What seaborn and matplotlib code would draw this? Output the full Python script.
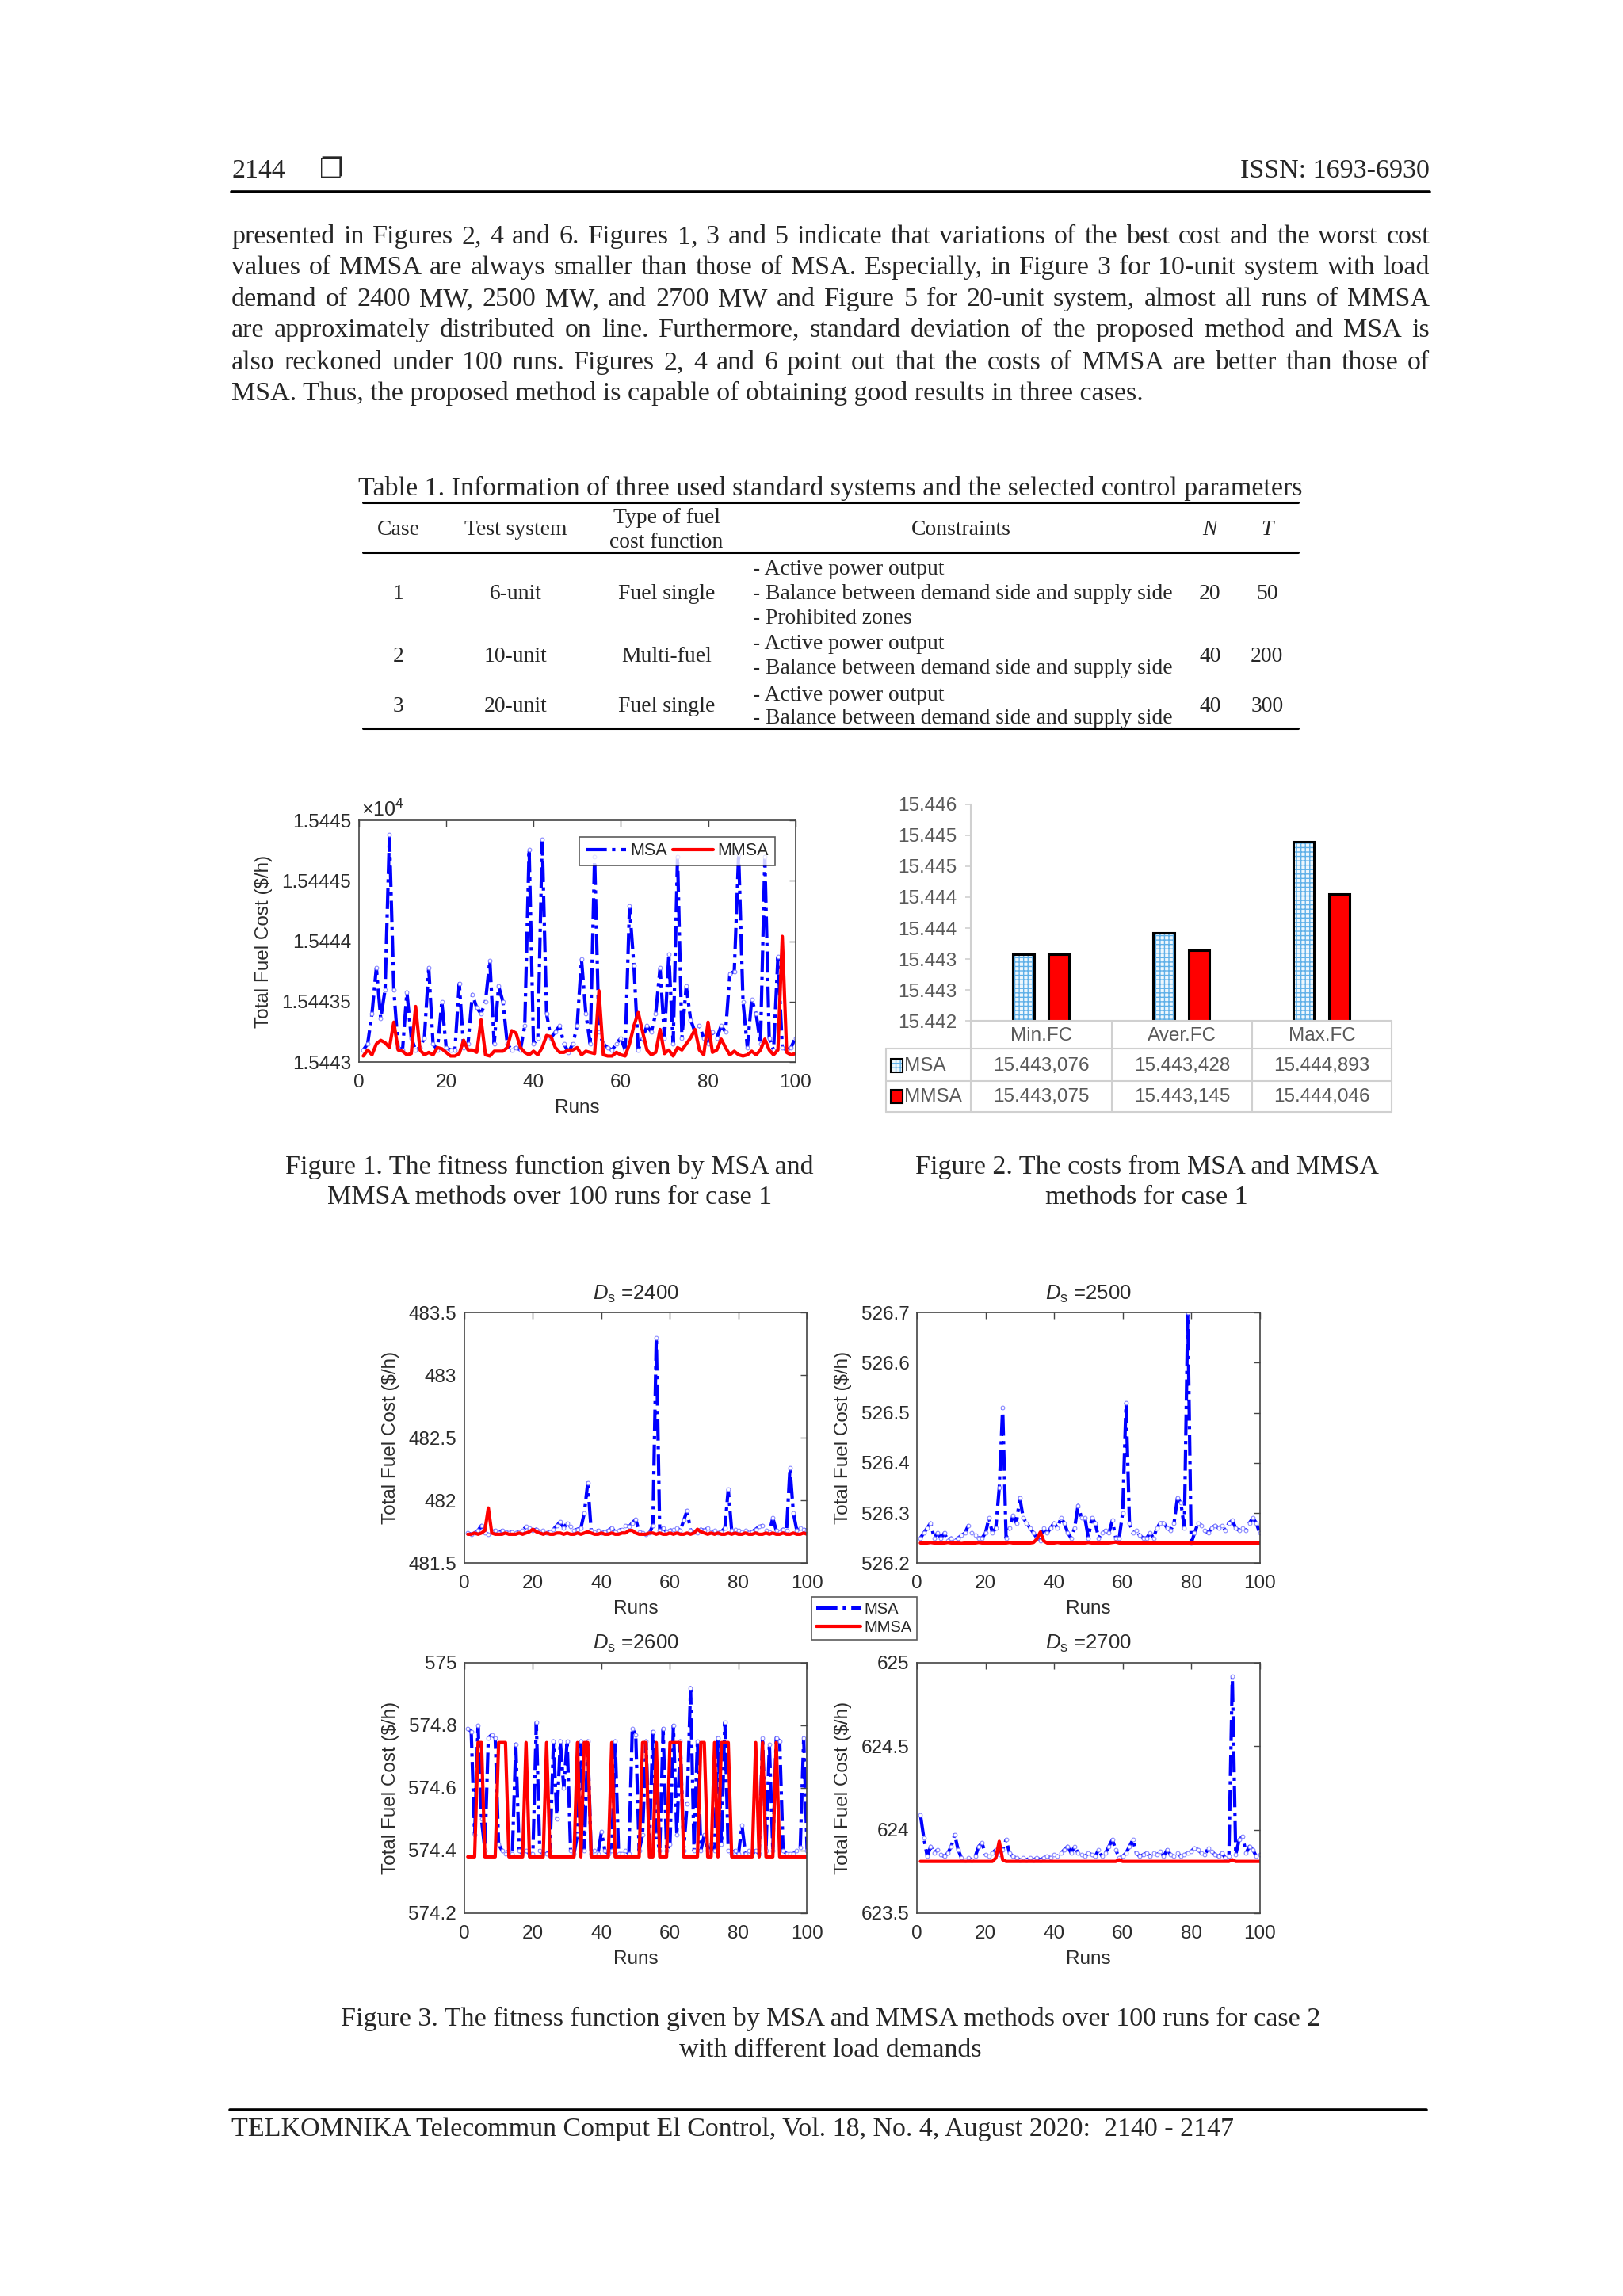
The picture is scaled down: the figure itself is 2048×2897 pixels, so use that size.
import numpy as np
import pandas as pd
import matplotlib
matplotlib.use("Agg")
import matplotlib.pyplot as plt
import seaborn as sns
from matplotlib.patches import Rectangle
from matplotlib.lines import Line2D

# ------------------------------------------------------------------ data
runs = list(range(1, 101))

fig1_msa = [15443.10, 15443.15, 15443.40, 15443.78, 15443.36, 15443.60, 15444.88, 15443.60, 15443.12, 15443.10,
            15443.58, 15443.20, 15443.10, 15443.12, 15443.20, 15443.78, 15443.15, 15443.10, 15443.50, 15443.12,
            15443.10, 15443.10, 15443.65, 15443.12, 15443.15, 15443.56, 15443.45, 15443.40, 15443.50, 15443.84,
            15443.15, 15443.63, 15443.50, 15443.15, 15443.10, 15443.12, 15443.10, 15443.30, 15444.76, 15443.15,
            15443.20, 15444.84, 15443.40, 15443.20, 15443.25, 15443.30, 15443.15, 15443.08, 15443.15, 15443.30,
            15443.85, 15443.40, 15443.15, 15444.70, 15443.25, 15443.15, 15443.12, 15443.10, 15443.15, 15443.20,
            15443.10, 15444.29, 15443.80, 15443.10, 15443.20, 15443.30, 15443.25, 15443.40, 15443.78, 15443.20,
            15443.89, 15443.15, 15444.70, 15443.20, 15443.63, 15443.35, 15443.25, 15443.30, 15443.20, 15443.15,
            15443.25, 15443.20, 15443.30, 15443.25, 15443.73, 15443.75, 15444.72, 15443.50, 15443.12, 15443.52,
            15443.40, 15443.15, 15444.70, 15443.20, 15443.10, 15443.87, 15443.12, 15443.10, 15443.12, 15443.20]
fig1_mmsa = [15443.05, 15443.10, 15443.06, 15443.15, 15443.18, 15443.16, 15443.12, 15443.33, 15443.10, 15443.09,
             15443.06, 15443.07, 15443.46, 15443.10, 15443.06, 15443.08, 15443.06, 15443.12, 15443.11, 15443.08,
             15443.05, 15443.05, 15443.07, 15443.18, 15443.10, 15443.10, 15443.08, 15443.35, 15443.06, 15443.05,
             15443.09, 15443.09, 15443.09, 15443.12, 15443.26, 15443.24, 15443.12, 15443.08, 15443.06, 15443.09,
             15443.06, 15443.12, 15443.22, 15443.21, 15443.12, 15443.08, 15443.08, 15443.10, 15443.10, 15443.12,
             15443.06, 15443.09, 15443.08, 15443.07, 15443.59, 15443.06, 15443.05, 15443.05, 15443.08, 15443.06,
             15443.05, 15443.15, 15443.30, 15443.41, 15443.25, 15443.10, 15443.06, 15443.08, 15443.27, 15443.07,
             15443.10, 15443.05, 15443.12, 15443.10, 15443.15, 15443.20, 15443.27, 15443.10, 15443.06, 15443.33,
             15443.08, 15443.10, 15443.19, 15443.12, 15443.06, 15443.09, 15443.06, 15443.05, 15443.06, 15443.09,
             15443.06, 15443.10, 15443.19, 15443.10, 15443.06, 15443.10, 15444.04, 15443.08, 15443.06, 15443.07]
fig1_yticks = [15443.0, 15443.5, 15444.0, 15444.5, 15445.0]
fig1_ylabels = ["1.5443", "1.54435", "1.5444", "1.54445", "1.5445"]

fig2_categories = ["Min.FC", "Aver.FC", "Max.FC"]
fig2_msa = [15443.076, 15443.428, 15444.893]
fig2_mmsa = [15443.075, 15443.145, 15444.046]
fig2_yticks = [15442.0, 15442.5, 15443.0, 15443.5, 15444.0, 15444.5, 15445.0, 15445.5]
fig2_ylabels = ["15.442", "15.443", "15.443", "15.444", "15.444", "15.445", "15.445", "15.446"]

d2400_msa = [481.74, 481.73, 481.74, 481.76, 481.80, 481.74, 481.73, 481.75, 481.76, 481.74,
             481.76, 481.75, 481.74, 481.75, 481.74, 481.75, 481.76, 481.79, 481.78, 481.76,
             481.77, 481.75, 481.76, 481.74, 481.75, 481.77, 481.80, 481.83, 481.78, 481.82,
             481.79, 481.76, 481.77, 481.78, 481.90, 482.14, 481.76, 481.75, 481.76, 481.74,
             481.75, 481.76, 481.78, 481.75, 481.76, 481.77, 481.80, 481.79, 481.82, 481.85,
             481.75, 481.74, 481.73, 481.74, 481.80, 483.30, 481.76, 481.78, 481.75, 481.76,
             481.77, 481.78, 481.76, 481.84, 481.92, 481.76, 481.75, 481.74, 481.77, 481.76,
             481.78, 481.75, 481.76, 481.74, 481.75, 481.78, 482.09, 481.76, 481.77, 481.76,
             481.75, 481.76, 481.74, 481.75, 481.77, 481.79, 481.80, 481.76, 481.75, 481.86,
             481.76, 481.75, 481.77, 481.76, 482.26, 481.90, 481.76, 481.78, 481.77, 481.76]
d2400_mmsa = [481.73, 481.73, 481.74, 481.73, 481.74, 481.76, 481.94, 481.74, 481.73, 481.73,
              481.73, 481.74, 481.73, 481.73, 481.73, 481.74, 481.73, 481.74, 481.75, 481.77,
              481.75, 481.74, 481.73, 481.74, 481.73, 481.73, 481.74, 481.74, 481.73, 481.74,
              481.73, 481.73, 481.74, 481.73, 481.74, 481.75, 481.74, 481.73, 481.73, 481.74,
              481.73, 481.73, 481.74, 481.73, 481.73, 481.74, 481.74, 481.76, 481.76, 481.74,
              481.73, 481.73, 481.73, 481.74, 481.74, 481.73, 481.74, 481.73, 481.73, 481.74,
              481.73, 481.74, 481.73, 481.73, 481.74, 481.73, 481.74, 481.77, 481.75, 481.74,
              481.73, 481.74, 481.73, 481.74, 481.73, 481.73, 481.74, 481.73, 481.74, 481.73,
              481.73, 481.74, 481.73, 481.73, 481.74, 481.73, 481.73, 481.74, 481.73, 481.74,
              481.73, 481.73, 481.74, 481.73, 481.73, 481.74, 481.73, 481.73, 481.74, 481.73]

d2500_msa = [526.250, 526.260, 526.270, 526.280, 526.250, 526.260, 526.250, 526.260, 526.245, 526.250,
             526.245, 526.250, 526.255, 526.260, 526.275, 526.260, 526.255, 526.250, 526.250, 526.260,
             526.290, 526.260, 526.270, 526.350, 526.510, 526.250, 526.270, 526.295, 526.280, 526.330,
             526.290, 526.280, 526.270, 526.260, 526.250, 526.245, 526.270, 526.260, 526.270, 526.280,
             526.270, 526.290, 526.280, 526.260, 526.250, 526.270, 526.315, 526.290, 526.290, 526.250,
             526.290, 526.280, 526.250, 526.260, 526.265, 526.260, 526.285, 526.250, 526.250, 526.300,
             526.520, 526.280, 526.260, 526.265, 526.255, 526.250, 526.250, 526.260, 526.250, 526.270,
             526.280, 526.280, 526.270, 526.265, 526.280, 526.330, 526.320, 526.270, 526.700, 526.240,
             526.260, 526.280, 526.275, 526.265, 526.260, 526.270, 526.275, 526.270, 526.275, 526.265,
             526.280, 526.285, 526.270, 526.265, 526.270, 526.265, 526.280, 526.290, 526.280, 526.260]
d2500_mmsa = [526.240, 526.240, 526.240, 526.241, 526.240, 526.240, 526.240, 526.240, 526.241, 526.240,
              526.240, 526.240, 526.239, 526.240, 526.240, 526.240, 526.240, 526.241, 526.240, 526.240,
              526.240, 526.240, 526.240, 526.240, 526.240, 526.240, 526.241, 526.240, 526.240, 526.240,
              526.240, 526.240, 526.240, 526.241, 526.248, 526.262, 526.244, 526.240, 526.240, 526.240,
              526.241, 526.240, 526.240, 526.240, 526.240, 526.240, 526.240, 526.240, 526.240, 526.241,
              526.240, 526.240, 526.240, 526.240, 526.240, 526.240, 526.241, 526.242, 526.240, 526.240,
              526.240, 526.240, 526.240, 526.240, 526.240, 526.240, 526.240, 526.240, 526.240, 526.240,
              526.240, 526.240, 526.240, 526.240, 526.240, 526.240, 526.240, 526.240, 526.240, 526.240,
              526.240, 526.240, 526.240, 526.240, 526.240, 526.240, 526.240, 526.240, 526.240, 526.240,
              526.240, 526.240, 526.240, 526.240, 526.240, 526.240, 526.240, 526.240, 526.240, 526.240]

d2600_msa = [574.79, 574.78, 574.45, 574.80, 574.50, 574.40, 574.76, 574.77, 574.76, 574.42,
             574.40, 574.39, 574.40, 574.39, 574.74, 574.40, 574.39, 574.40, 574.39, 574.39,
             574.81, 574.40, 574.39, 574.39, 574.40, 574.75, 574.50, 574.75, 574.60, 574.75,
             574.40, 574.39, 574.45, 574.75, 574.40, 574.75, 574.39, 574.40, 574.39, 574.46,
             574.40, 574.39, 574.40, 574.75, 574.39, 574.39, 574.40, 574.39, 574.79, 574.77,
             574.40, 574.45, 574.75, 574.42, 574.78, 574.45, 574.40, 574.79, 574.40, 574.42,
             574.80, 574.45, 574.75, 574.40, 574.55, 574.92, 574.40, 574.75, 574.40, 574.45,
             574.40, 574.42, 574.40, 574.76, 574.42, 574.81, 574.40, 574.39, 574.40, 574.39,
             574.48, 574.39, 574.40, 574.39, 574.40, 574.39, 574.76, 574.40, 574.74, 574.40,
             574.76, 574.75, 574.40, 574.39, 574.39, 574.39, 574.40, 574.41, 574.76, 574.40]
d2600_mmsa = [574.38, 574.38, 574.38, 574.745, 574.745, 574.38, 574.38, 574.38, 574.38, 574.745,
              574.745, 574.745, 574.38, 574.38, 574.38, 574.38, 574.38, 574.745, 574.38, 574.38,
              574.38, 574.38, 574.38, 574.745, 574.38, 574.38, 574.38, 574.38, 574.38, 574.38,
              574.38, 574.38, 574.745, 574.38, 574.745, 574.745, 574.38, 574.38, 574.38, 574.38,
              574.38, 574.38, 574.745, 574.38, 574.38, 574.38, 574.38, 574.38, 574.38, 574.38,
              574.38, 574.745, 574.745, 574.38, 574.38, 574.745, 574.38, 574.38, 574.38, 574.745,
              574.745, 574.745, 574.745, 574.38, 574.38, 574.38, 574.38, 574.38, 574.745, 574.745,
              574.38, 574.38, 574.745, 574.38, 574.745, 574.745, 574.745, 574.38, 574.38, 574.38,
              574.38, 574.38, 574.38, 574.38, 574.745, 574.38, 574.745, 574.38, 574.38, 574.38,
              574.745, 574.38, 574.38, 574.38, 574.38, 574.38, 574.38, 574.38, 574.38, 574.38]

d2700_msa = [624.09, 623.95, 623.84, 623.90, 623.86, 623.88, 623.85, 623.84, 623.86, 623.90,
             623.97, 623.88, 623.83, 623.82, 623.83, 623.82, 623.84, 623.90, 623.92, 623.85,
             623.84, 623.86, 623.88, 623.85, 623.88, 623.94, 623.86, 623.84, 623.83, 623.82,
             623.83, 623.82, 623.83, 623.82, 623.83, 623.82, 623.83, 623.84, 623.83, 623.85,
             623.84, 623.86, 623.88, 623.90, 623.86, 623.90, 623.86, 623.85, 623.84, 623.86,
             623.85, 623.84, 623.88, 623.84, 623.86, 623.90, 623.94, 623.88, 623.83, 623.84,
             623.86, 623.90, 623.94, 623.86, 623.84, 623.85, 623.86, 623.84, 623.86, 623.85,
             623.87, 623.84, 623.88, 623.85, 623.84, 623.86, 623.84, 623.85, 623.86, 623.87,
             623.89, 623.88, 623.86, 623.85, 623.89, 623.87, 623.85, 623.84, 623.86, 623.83,
             623.84, 624.92, 623.85, 623.94, 623.96, 623.86, 623.90, 623.88, 623.84, 623.85]
d2700_mmsa = [623.81, 623.81, 623.81, 623.81, 623.81, 623.81, 623.81, 623.81, 623.81, 623.81,
              623.81, 623.81, 623.81, 623.81, 623.81, 623.81, 623.81, 623.81, 623.81, 623.81,
              623.81, 623.81, 623.83, 623.93, 623.82, 623.81, 623.81, 623.81, 623.81, 623.81,
              623.81, 623.81, 623.81, 623.81, 623.81, 623.81, 623.81, 623.81, 623.81, 623.81,
              623.81, 623.81, 623.81, 623.81, 623.81, 623.81, 623.81, 623.81, 623.81, 623.81,
              623.81, 623.81, 623.81, 623.81, 623.81, 623.81, 623.81, 623.81, 623.82, 623.81,
              623.81, 623.81, 623.81, 623.81, 623.81, 623.81, 623.81, 623.81, 623.81, 623.81,
              623.81, 623.81, 623.81, 623.81, 623.81, 623.81, 623.81, 623.81, 623.81, 623.81,
              623.81, 623.81, 623.81, 623.81, 623.81, 623.81, 623.81, 623.81, 623.81, 623.81,
              623.81, 623.82, 623.81, 623.81, 623.81, 623.81, 623.81, 623.81, 623.81, 623.81]

fig3_titles = ["2400", "2500", "2600", "2700"]
fig3_yticks = [[481.5, 482.0, 482.5, 483.0, 483.5],
               [526.2, 526.3, 526.4, 526.5, 526.6, 526.7],
               [574.2, 574.4, 574.6, 574.8, 575.0],
               [623.5, 624.0, 624.5, 625.0]]
fig3_ylabels = [["481.5", "482", "482.5", "483", "483.5"],
                ["526.2", "526.3", "526.4", "526.5", "526.6", "526.7"],
                ["574.2", "574.4", "574.6", "574.8", "575"],
                ["623.5", "624", "624.5", "625"]]
xticks_runs = [0, 20, 40, 60, 80, 100]

paragraph = [
    "presented in Figures 2, 4 and 6. Figures 1, 3 and 5 indicate that variations of the best cost and the worst cost",
    "values of MMSA are always smaller than those of MSA. Especially, in Figure 3 for 10-unit system with load",
    "demand of 2400 MW, 2500 MW, and 2700 MW and Figure 5 for 20-unit system, almost all runs of MMSA",
    "are approximately distributed on line. Furthermore, standard deviation of the proposed method and MSA is",
    "also reckoned under 100 runs. Figures 2, 4 and 6 point out that the costs of MMSA are better than those of",
    "MSA. Thus, the proposed method is capable of obtaining good results in three cases.",
]
table_caption = "Table 1. Information of three used standard systems and the selected control parameters"
table_cases = ["1", "2", "3"]
table_systems = ["6-unit", "10-unit", "20-unit"]
table_fuel = ["Fuel single", "Multi-fuel", "Fuel single"]
table_constraints = [["- Active power output", "- Balance between demand side and supply side", "- Prohibited zones"],
                     ["- Active power output", "- Balance between demand side and supply side"],
                     ["- Active power output", "- Balance between demand side and supply side"]]
table_N = ["20", "40", "40"]
table_T = ["50", "200", "300"]

# ------------------------------------------------------------------ setup
W, H = 2048, 2897
S = W / 1108.0
sns.set_style("white")
SANS = ["Liberation Sans", "DejaVu Sans"]
SERIF = ["Liberation Serif", "DejaVu Serif"]
plt.rcParams["font.family"] = SANS
plt.rcParams["mathtext.fontset"] = "custom"
plt.rcParams["mathtext.it"] = "Liberation Sans:italic"
plt.rcParams["mathtext.rm"] = "Liberation Sans"
plt.rcParams["hatch.linewidth"] = 1.0

fig = plt.figure(figsize=(W / 100, H / 100), dpi=100)
fig.patch.set_facecolor("white")
renderer = fig.canvas.get_renderer()


def fx(x):
    return x * S / W


def fy(y):
    return 1 - y * S / H


def rect(l, t, r, b):
    return [fx(l), fy(b), fx(r) - fx(l), fy(t) - fy(b)]


def ftext(x, y, s, size, ha="left", va="baseline", family=SERIF, **kw):
    return fig.text(fx(x), fy(y), s, fontsize=size, ha=ha, va=va, family=family, **kw)


def text_width(s, size, family=SERIF, **kw):
    t = fig.text(0, 0, s, fontsize=size, family=family, **kw)
    w = t.get_window_extent(renderer).width
    t.remove()
    return w


def hline(x0, x1, y, lw=1.5, color="black"):
    fig.add_artist(Line2D([fx(x0), fx(x1)], [fy(y), fy(y)], transform=fig.transFigure,
                          color=color, lw=lw))


# ------------------------------------------------------------------ page text
BODY = 24.5
ftext(158, 121, "2144", BODY)
ftext(218, 121, "\u2750", BODY, family=["DejaVu Sans"])
ftext(976, 121, "ISSN: 1693-6930", BODY, ha="right")
hline(158, 976, 131, lw=2.6)

x0, x1 = 158, 976
target = (x1 - x0) * S
widest = max(text_width(line, BODY) for line in paragraph[:-1])
psize = BODY if widest < target * 0.985 else BODY * target * 0.985 / widest
baselines = [166, 187, 209, 230, 252, 273]
for i, line in enumerate(paragraph):
    yb = baselines[i]
    if i == len(paragraph) - 1:
        ftext(x0, yb, line, psize)
        continue
    words = line.split(" ")
    objs, widths = [], []
    for w in words:
        t = ftext(x0, yb, w, psize)
        objs.append(t)
        widths.append(t.get_window_extent(renderer).width)
    gap = (target - sum(widths)) / (len(words) - 1)
    xp = x0 * S
    for t, wd in zip(objs, widths):
        t.set_x(xp / W)
        xp += wd + gap

# table
cap_w = text_width(table_caption, BODY)
cap_size = BODY * min(1.0, (893 - 241) * S / cap_w)
ftext(567, 338, table_caption, cap_size, ha="center")
long_w = text_width(table_constraints[0][1], 22)
TS = 22 * min(1.0, (800 - 514) * S / long_w)
hline(248, 886, 343, lw=2.2)
hline(248, 886, 377, lw=2.2)
hline(248, 886, 497, lw=2.2)
hdr_y = 365
ftext(272, hdr_y, "Case", TS, ha="center")
ftext(352, hdr_y, "Test system", TS, ha="center")
ftext(455, 357, "Type of fuel", TS, ha="center")
ftext(455, 374, "cost function", TS, ha="center")
ftext(656, hdr_y, "Constraints", TS, ha="center")
ftext(826, hdr_y, "N", TS, ha="center", style="italic")
ftext(865, hdr_y, "T", TS, ha="center", style="italic")
row_lines = [[392, 409, 426], [443, 460], [478, 494]]
row_mid = [409, 452, 486]
for i in range(3):
    ym = row_mid[i]
    ftext(272, ym, table_cases[i], TS, ha="center")
    ftext(352, ym, table_systems[i], TS, ha="center")
    ftext(455, ym, table_fuel[i], TS, ha="center")
    ftext(826, ym, table_N[i], TS, ha="center")
    ftext(865, ym, table_T[i], TS, ha="center")
    for s_, yl in zip(table_constraints[i], row_lines[i]):
        ftext(514, yl, s_, TS)

# captions
ftext(375, 801, "Figure 1. The fitness function given by MSA and", BODY, ha="center")
ftext(375, 822, "MMSA methods over 100 runs for case 1", BODY, ha="center")
ftext(783, 801, "Figure 2. The costs from MSA and MMSA", BODY, ha="center")
ftext(783, 822, "methods for case 1", BODY, ha="center")
ftext(567, 1383, "Figure 3. The fitness function given by MSA and MMSA methods over 100 runs for case 2", BODY, ha="center")
ftext(567, 1404, "with different load demands", BODY, ha="center")

hline(157, 974, 1440, lw=2.6)
ftext(158, 1458, "TELKOMNIKA Telecommun Comput El Control, Vol. 18, No. 4, August 2020:  2140 - 2147", BODY)

# ------------------------------------------------------------------ line-plot helpers
BLUE = "#0000ff"
RED = "#ff0000"
TXT = "#2b2b2b"
FS = 17.5


def draw_runs(ax, msa, mmsa):
    df = pd.DataFrame({"Runs": runs, "MSA": msa, "MMSA": mmsa})
    sns.lineplot(data=df, x="Runs", y="MSA", ax=ax, color=BLUE, linewidth=3.0, linestyle="-.",
                 marker="o", markersize=3.4, markerfacecolor="white", markeredgecolor="#8c8cff",
                 markeredgewidth=0.8, errorbar=None, legend=False)
    sns.lineplot(data=df, x="Runs", y="MMSA", ax=ax, color=RED, linewidth=3.0, linestyle="-",
                 errorbar=None, legend=False)
    ax.set_xlim(0, 100)
    ax.set_xticks(xticks_runs)
    ax.set_xticklabels([str(v) for v in xticks_runs])
    ax.tick_params(direction="in", top=True, right=True, length=6, width=1, labelsize=FS,
                   labelcolor=TXT, color="#444444", pad=7)
    ax.tick_params(axis="x", pad=11)
    for sp in ax.spines.values():
        sp.set_visible(True)
        sp.set_color("#444444")
        sp.set_linewidth(1.2)
    ax.set_facecolor("white")
    ax.set_xlabel("Runs", fontsize=FS, color=TXT, labelpad=7)
    ax.set_ylabel("Total Fuel Cost ($/h)", fontsize=FS, color=TXT, labelpad=8)


# ------------------------------------------------------------------ Figure 1
ax1 = fig.add_axes(rect(245, 560, 543, 725))
draw_runs(ax1, fig1_msa, fig1_mmsa)
ax1.set_ylim(15443, 15445)
ax1.set_yticks(fig1_yticks)
ax1.set_yticklabels(fig1_ylabels)
ax1.text(0.005, 1.0, r"$\times 10^{4}$", transform=ax1.transAxes, fontsize=18, color=TXT,
         ha="left", va="bottom")
h_msa = Line2D([], [], color=BLUE, lw=3.0, linestyle="-.")
h_mmsa = Line2D([], [], color=RED, lw=3.0)
leg1 = ax1.legend([h_msa, h_mmsa], ["MSA", "MMSA"], loc="upper right", bbox_to_anchor=(0.953, 0.933),
                  borderaxespad=0, ncol=2, fontsize=15.5, frameon=True, fancybox=False, edgecolor="#333333",
                  handlelength=2.4, columnspacing=0.3, handletextpad=0.25, borderpad=0.35)
leg1.get_frame().set_linewidth(1.2)

# ------------------------------------------------------------------ Figure 2
GRAY = "#595959"
LG = "#d0d0d0"
MSA_FACE = "#eef7fd"
MSA_HATCH = "#5fb0e8"
ax2 = fig.add_axes(rect(663, 549, 950, 697))
df2 = pd.DataFrame({"cat": fig2_categories * 2,
                    "val": fig2_msa + fig2_mmsa,
                    "method": ["MSA"] * 3 + ["MMSA"] * 3})
sns.barplot(data=df2, x="cat", y="val", hue="method", order=fig2_categories,
            hue_order=["MSA", "MMSA"], palette={"MSA": MSA_FACE, "MMSA": RED},
            width=0.504, gap=0.41, ax=ax2, legend=False, errorbar=None, saturation=1)
for bar in ax2.containers[0]:
    bar.set_hatch("+++")
    bar.set_edgecolor(MSA_HATCH)
    bar.set_linewidth(0)
for cont in ax2.containers:
    for bar in cont:
        ax2.add_patch(Rectangle(bar.get_xy(), bar.get_width(), bar.get_height(), fill=False,
                                edgecolor="black", linewidth=2.2, zorder=3))
ax2.set_xlim(-0.5, 2.5)
ax2.set_ylim(15442, 15445.5)
ax2.set_yticks(fig2_yticks)
ax2.set_yticklabels(fig2_ylabels)
ax2.set_xticks([])
ax2.set_xlabel("")
ax2.set_ylabel("")
for k, sp in ax2.spines.items():
    sp.set_visible(k == "left")
ax2.spines["left"].set_color(LG)
ax2.spines["left"].set_linewidth(1.5)
ax2.tick_params(axis="y", direction="out", length=5, width=1.2, color=LG, labelsize=FS,
                labelcolor=GRAY, pad=8, left=True)
ax2.set_facecolor("none")

axt = fig.add_axes(rect(605, 697, 950, 759))
axt.set_xlim(605, 950)
axt.set_ylim(759, 697)
axt.axis("off")
col_edges = [663, 759, 855, 950]
for xe in col_edges:
    axt.plot([xe, xe], [697, 759], color=LG, lw=1.5, clip_on=False)
axt.plot([605, 605], [716, 759], color=LG, lw=1.5, clip_on=False)
axt.plot([663, 950], [697, 697], color=LG, lw=1.5, clip_on=False)
for yy in [716, 738, 759]:
    axt.plot([605, 950], [yy, yy], color=LG, lw=1.5, clip_on=False)


def euro(v):
    s = f"{v:,.3f}"
    return s.replace(",", "X").replace(".", ",").replace("X", ".")


centers = [(col_edges[i] + col_edges[i + 1]) / 2 for i in range(3)]
for c, name in zip(centers, fig2_categories):
    axt.text(c, 707, name, ha="center", va="center", fontsize=FS, color=GRAY)
for c, v in zip(centers, fig2_msa):
    axt.text(c, 727.5, euro(v), ha="center", va="center", fontsize=FS, color=GRAY)
for c, v in zip(centers, fig2_mmsa):
    axt.text(c, 748.5, euro(v), ha="center", va="center", fontsize=FS, color=GRAY)
axt.add_patch(Rectangle((608, 723), 8, 9, facecolor=MSA_FACE, edgecolor=MSA_HATCH, hatch="+++", lw=0))
axt.add_patch(Rectangle((608, 723), 8, 9, fill=False, edgecolor="black", lw=1.5))
axt.add_patch(Rectangle((608, 744), 8, 9, facecolor=RED, edgecolor="black", lw=1.5))
axt.text(617.5, 727.5, "MSA", ha="left", va="center", fontsize=FS, color=GRAY)
axt.text(617.5, 748.5, "MMSA", ha="left", va="center", fontsize=FS, color=GRAY)

# ------------------------------------------------------------------ Figure 3
panels = [(317, 896, 551, 1067), (626, 896, 860, 1067), (317, 1135, 551, 1306), (626, 1135, 860, 1306)]
series = [(d2400_msa, d2400_mmsa), (d2500_msa, d2500_mmsa), (d2600_msa, d2600_mmsa), (d2700_msa, d2700_mmsa)]
for i, (pos, (ms, mm)) in enumerate(zip(panels, series)):
    ax = fig.add_axes(rect(*pos))
    draw_runs(ax, ms, mm)
    ax.set_ylim(fig3_yticks[i][0], fig3_yticks[i][-1])
    ax.set_yticks(fig3_yticks[i])
    ax.set_yticklabels(fig3_ylabels[i])
    ax.set_title(r"$D_{\rm s}$ =" + fig3_titles[i], fontsize=18.5, color=TXT, pad=12)

leg3 = fig.legend([Line2D([], [], color=BLUE, lw=3.0, linestyle="-."), Line2D([], [], color=RED, lw=3.0)],
                  ["MSA", "MMSA"], loc="upper left", bbox_to_anchor=(fx(554), fy(1090)),
                  bbox_transform=fig.transFigure, fontsize=14.5, frameon=True, fancybox=False,
                  edgecolor="#333333", handlelength=2.8, handletextpad=0.2, borderpad=0.3,
                  labelspacing=0.2, borderaxespad=0)
leg3.get_frame().set_linewidth(1.2)

fig.savefig("out.png", dpi=100, facecolor="white")
